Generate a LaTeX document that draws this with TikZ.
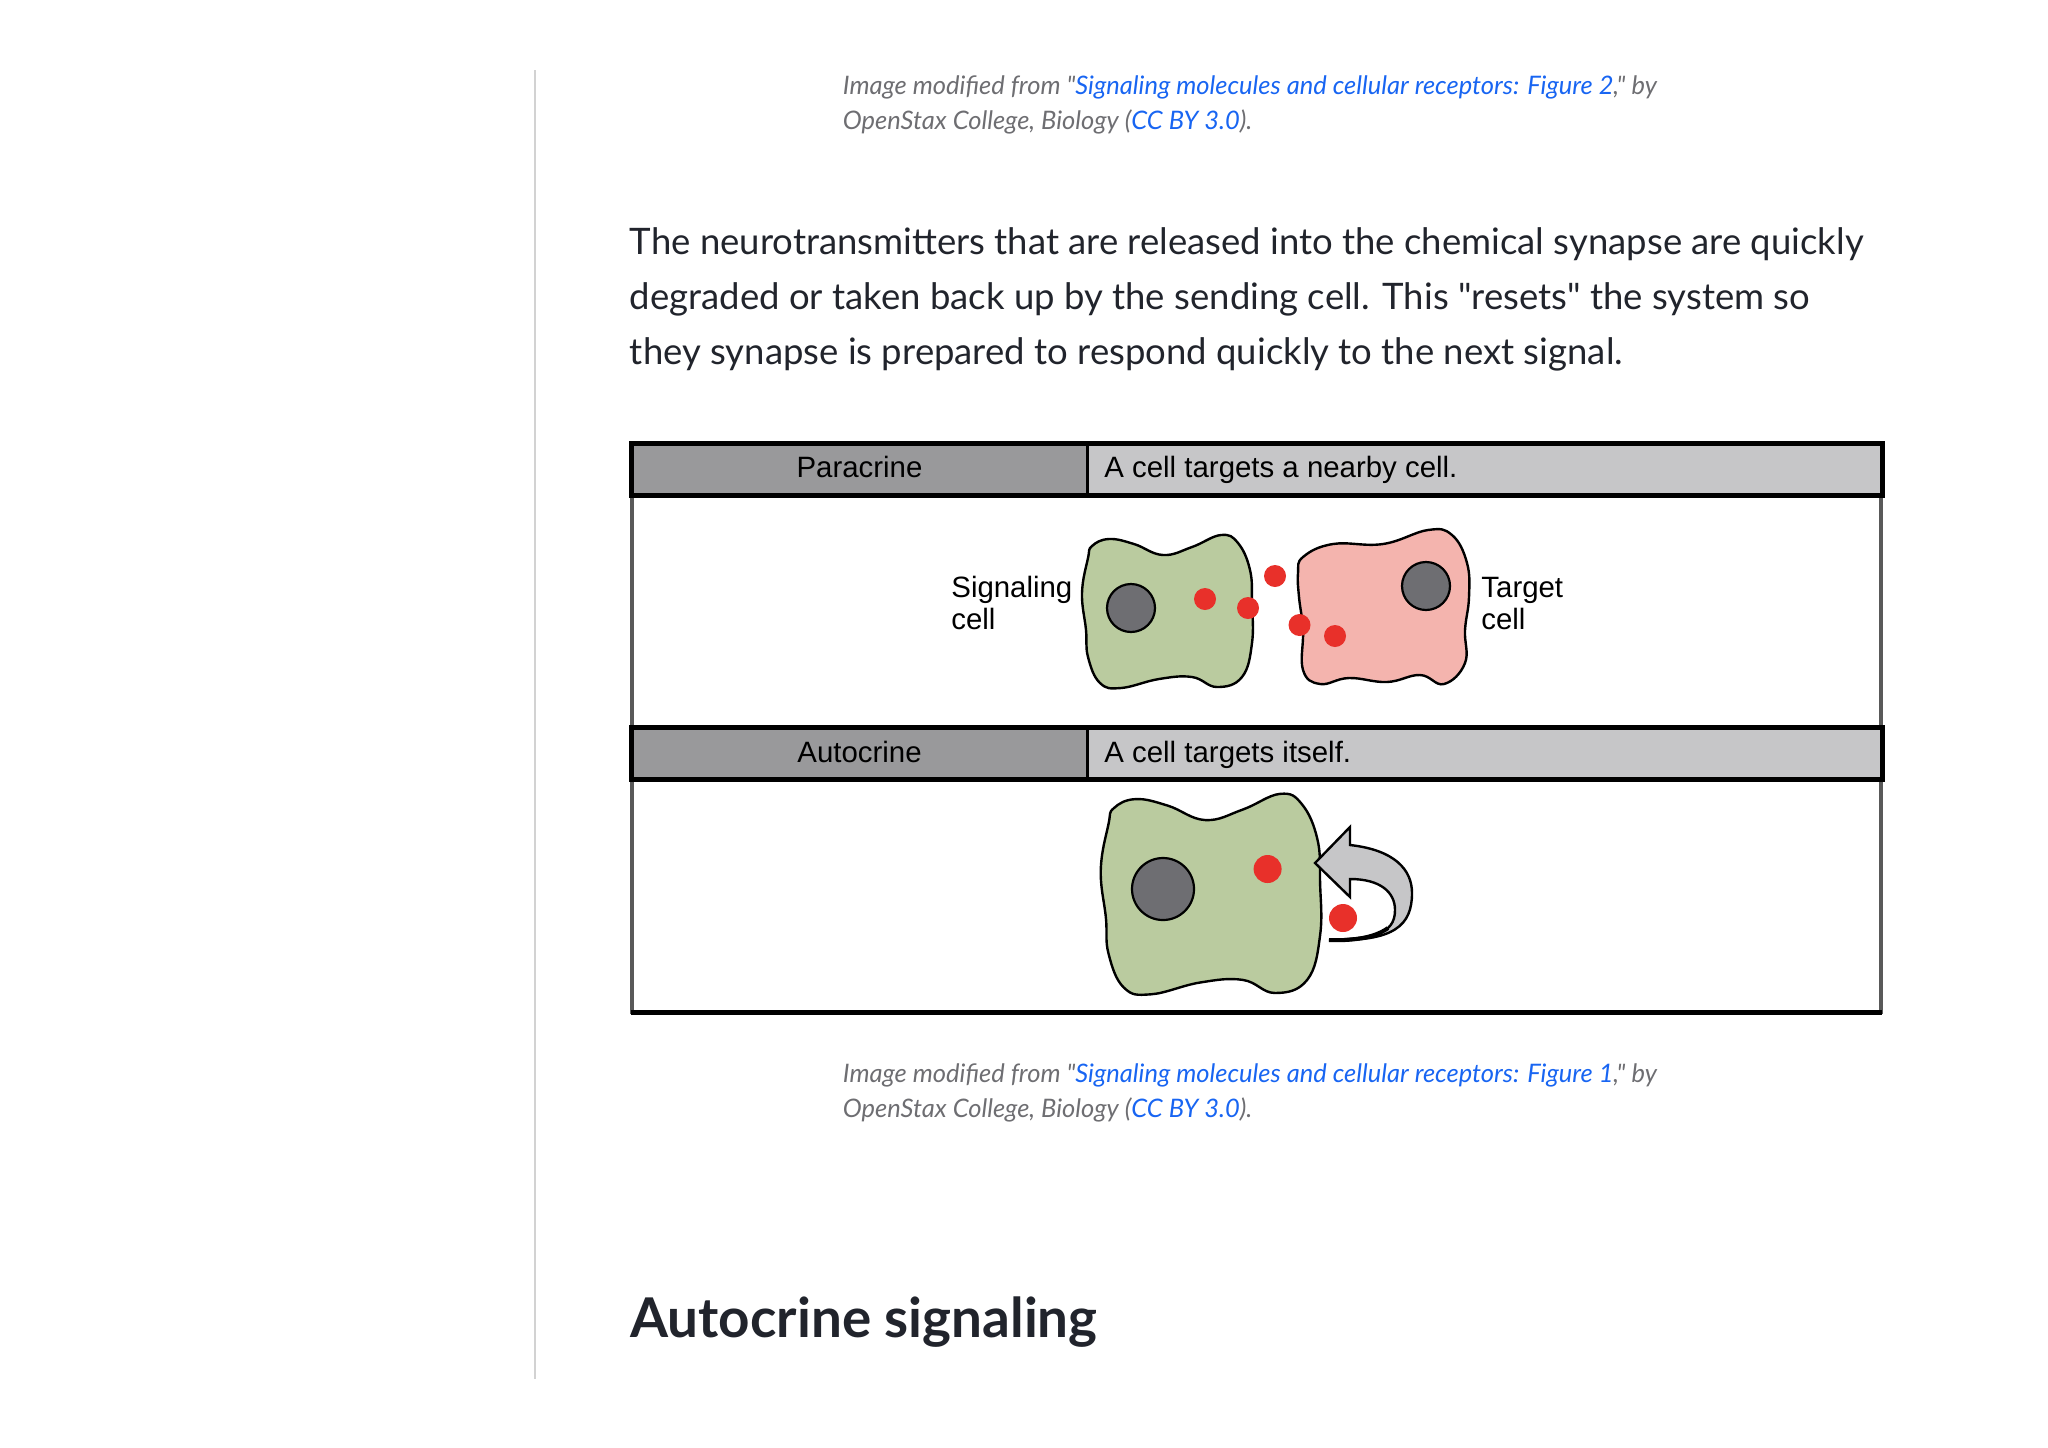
\documentclass[tikz,border=0pt]{standalone}
\usepackage{fontspec}
\setmainfont[Ligatures={Common,TeXOff}]{Lato}
\newfontfamily\tablefont{Liberation Sans}
\definecolor{linkblue}{HTML}{1865F2}
\definecolor{captiongrey}{HTML}{6E6E72}
\definecolor{inktext}{HTML}{21242C}
\definecolor{darkhead}{HTML}{99999B}
\definecolor{lighthead}{HTML}{C6C6C8}
\definecolor{cellgreen}{HTML}{BACB9F}
\definecolor{cellpink}{HTML}{F4B4AE}
\definecolor{nucleusgrey}{HTML}{6E6E72}
\definecolor{dotred}{HTML}{E8302A}
\tikzset{
  bodytext/.style={anchor=base west,inner sep=0pt,font=\fontsize{18.25}{24}\selectfont,text=inktext},
  captiontext/.style={anchor=base west,inner sep=0pt,font=\fontsize{12.75}{17}\selectfont\itshape,text=captiongrey},
  titletext/.style={anchor=base west,inner sep=0pt,font=\fontsize{27.4}{32}\selectfont\bfseries,text=inktext},
  headtext/.style={anchor=base,inner sep=0pt,font=\tablefont\fontsize{14.7}{18}\selectfont,text=black},
  celltext/.style={anchor=base west,inner sep=0pt,font=\tablefont\fontsize{14.7}{16}\selectfont,text=black},
  cellline/.style={draw=black,line width=1.2pt},
  nucleus/.style={draw=black,fill=nucleusgrey,line width=1.1pt},
  molecule/.style={fill=dotred,draw=none},
}
\newcommand{\greencell}{plot[smooth cycle,tension=.7] coordinates {(1092,546) (1109,539) (1134,544) (1163,555) (1192,547) (1221,535) (1238,543) (1250,570) (1252,603) (1252,643) (1242,677) (1217,687) (1192,677) (1159,679) (1121,688) (1100,683) (1088,657) (1086,630) (1082,593) (1088,558)}}
\begin{document}
\begin{tikzpicture}[x=0.5pt,y=-0.5pt]
  \useasboundingbox (0,0) rectangle (2048,1447);
  \draw[color=gray!35,line width=1pt] (534.5,70) -- (534.5,1379);

  % top caption
  \node[captiontext] (capa) at (842.5,94) {Image modified from "\textcolor{linkblue}{Signaling molecules and cellular receptors: Figure 2},"~by};
  \node[captiontext] (capb) at (842.5,129) {OpenStax College, Biology (\textcolor{linkblue}{CC BY 3.0}).};

  % paragraph
  \node[bodytext] (linea) at (629.5,254) {The neurotransmitters that are released into the chemical synapse are quickly};
  \node[bodytext] (lineb) at (629.5,309) {degraded or taken back up by the sending cell. This "resets" the system so};
  \node[bodytext] (linec) at (629.5,364) {they synapse is prepared to respond quickly to the next signal.};

  % table
  \draw[color=black!65,line width=2pt] (632,444) rectangle (1881,1012);
  \fill[darkhead] (632,443.5) rectangle (1087,495.5);
  \fill[lighthead] (1087,443.5) rectangle (1881,495.5);
  \fill[darkhead] (632,727.5) rectangle (1087,779.5);
  \fill[lighthead] (1087,727.5) rectangle (1881,779.5);
  \draw[line width=2.5pt] (631,443.5) rectangle (1882,495.5);
  \draw[line width=2.5pt] (631,727.5) rectangle (1882,779.5);
  \draw[line width=1.5pt] (1087,443.5) -- (1087,495.5);
  \draw[line width=1.5pt] (1087,727.5) -- (1087,779.5);
  \draw[line width=2.5pt] (631,1012.5) -- (1882,1012.5);

  \node[headtext] (para) at (859.5,477) {Paracrine};
  \node[celltext] (paradesc) at (1104,477) {A cell targets a nearby cell.};
  \node[headtext] (auto) at (859.5,762) {Autocrine};
  \node[celltext] (autodesc) at (1104,762) {A cell targets itself.};

  % paracrine cells
  \draw[cellline,fill=cellgreen] \greencell;
  \draw[cellline,fill=cellpink] plot[smooth cycle,tension=.7] coordinates {(1298,573) (1303,557) (1333,544) (1383,544) (1428,530) (1452,535) (1467,563) (1469,597) (1465,630) (1465,663) (1444,684) (1420,675) (1387,682) (1349,678) (1320,684) (1303,670) (1303,630) (1299,597)};
  \draw[nucleus] (1131,608) circle (24);
  \draw[nucleus] (1426,586) circle (24);
  \foreach \px/\py in {1205/599,1248/608,1275/576,1299.5/625,1335/636}
    \fill[molecule] (\px,\py) circle (11);
  \node[celltext] (sigcell) at (951,597) {Signaling};
  \node[celltext] (sigcellb) at (951,629) {cell};
  \node[celltext] (tarcell) at (1481,597) {Target};
  \node[celltext] (tarcellb) at (1481,629) {cell};

  % autocrine cell
  \begin{scope}[shift={(-295,93)},xscale=1.29,yscale=1.31]
    \draw[cellline,fill=cellgreen] \greencell;
  \end{scope}
  \draw[nucleus] (1163,889) circle (31);
  \foreach \px/\py in {1267.6/869,1343/918}
    \fill[molecule] (\px,\py) circle (14);

  % return arrow
  \draw[line width=1.2pt,fill=lighthead,line join=miter] (1315,863) -- (1350,827) -- (1350,845)
    .. controls (1395,850) and (1412,870) .. (1412,893)
    .. controls (1412,925) and (1395,942) .. (1329,940)
    .. controls (1372,938) and (1395,935) .. (1395,910)
    .. controls (1395,892) and (1380,879) .. (1350,879)
    -- (1350,897) -- cycle;
  \draw[line width=2pt] (1329,940) .. controls (1352,941) and (1374,938) .. (1388,928);

  % bottom caption
  \node[captiontext] (capc) at (842.5,1082) {Image modified from "\textcolor{linkblue}{Signaling molecules and cellular receptors: Figure 1},"~by};
  \node[captiontext] (capd) at (842.5,1117) {OpenStax College, Biology (\textcolor{linkblue}{CC BY 3.0}).};

  % next heading
  \node[titletext] (heading) at (630,1337) {Autocrine signaling};
\end{tikzpicture}
\end{document}
